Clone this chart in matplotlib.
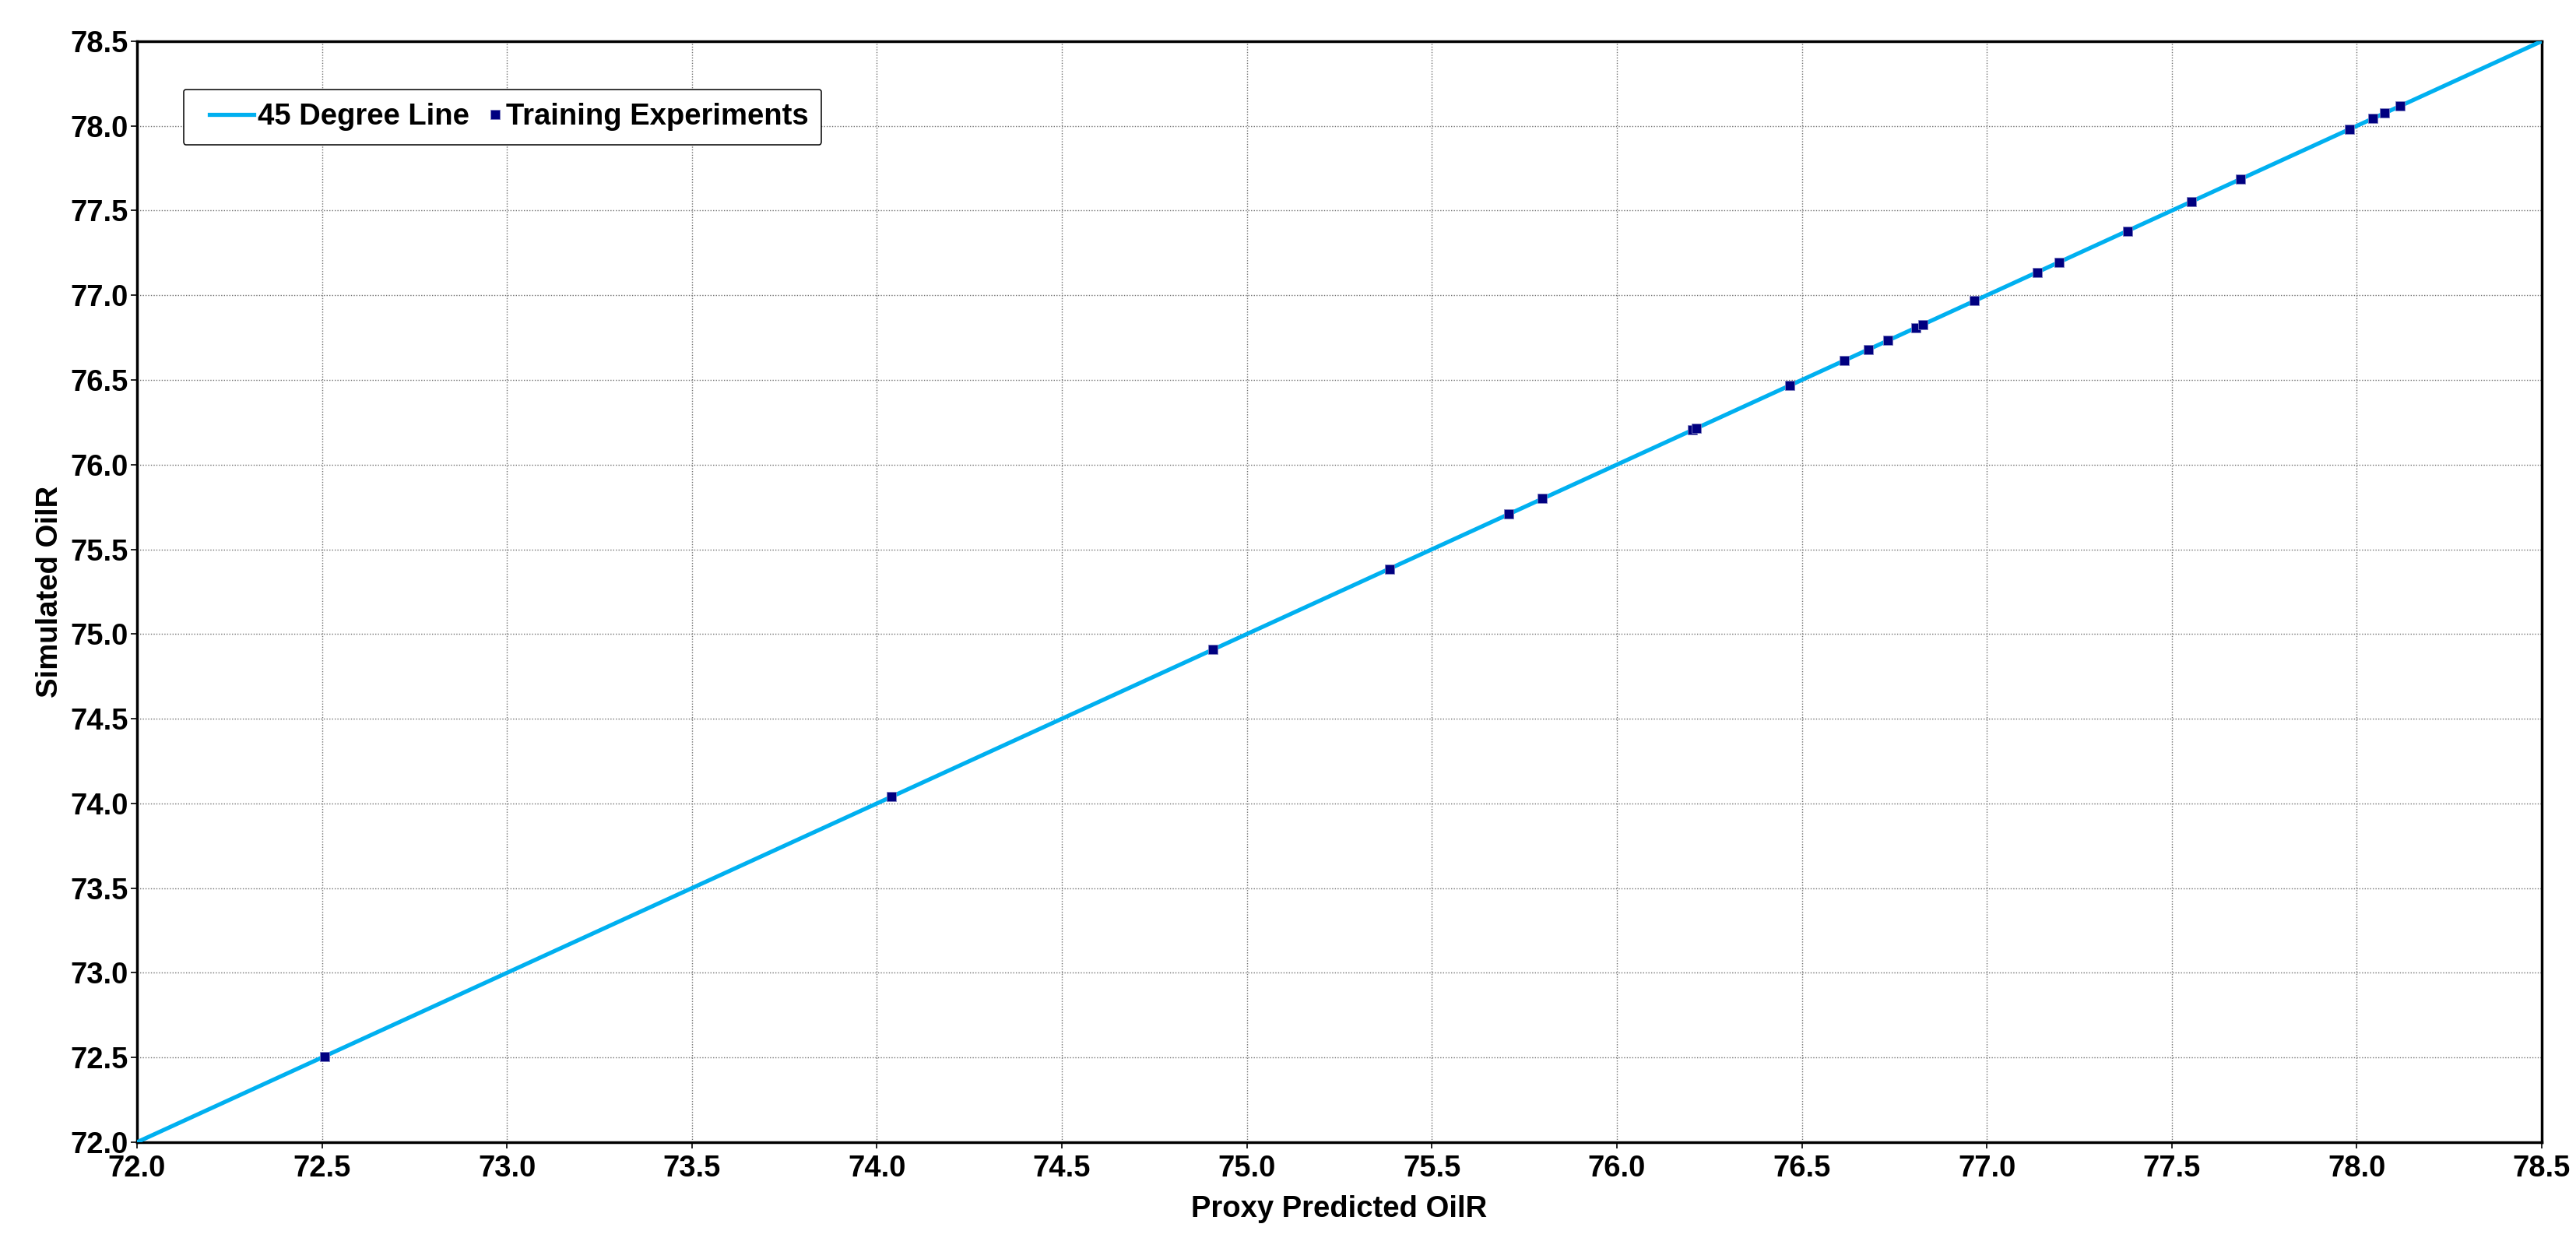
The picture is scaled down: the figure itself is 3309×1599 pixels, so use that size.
import matplotlib
matplotlib.use("Agg")
import matplotlib.pyplot as plt
import numpy as np
from matplotlib.legend_handler import HandlerLine2D

# proxy vs simulated OilR for the training runs
proxy_oilr = [72.506, 74.039, 74.908, 75.385, 75.708, 75.799, 76.205, 76.215,
              76.467, 76.614, 76.680, 76.733, 76.808, 76.827, 76.967, 77.136,
              77.195, 77.380, 77.554, 77.686, 77.980, 78.043, 78.076, 78.117]
sim_oilr = [72.506, 74.039, 74.908, 75.385, 75.708, 75.799, 76.205, 76.215,
            76.467, 76.614, 76.680, 76.733, 76.808, 76.827, 76.967, 77.136,
            77.195, 77.380, 77.554, 77.686, 77.980, 78.043, 78.076, 78.117]
line_ends = [72.0, 78.5]
ticks = np.arange(72.0, 78.51, 0.5)
tick_labels = ["%.1f" % t for t in ticks]

plt.rcParams['font.family'] = ['Liberation Sans', 'DejaVu Sans']
plt.rcParams['font.weight'] = 'bold'
fs = 27.5


class RightHandle(HandlerLine2D):
    # draw the handle only in the right part of the handle box
    def __init__(self, seg, **kw):
        self.seg = seg  # length in points, measured back from the right end
        HandlerLine2D.__init__(self, **kw)

    def get_xdata(self, legend, xdescent, ydescent, width, height, fontsize):
        x1 = -xdescent + width
        if self.seg > 0:
            return np.array([x1 - self.seg, x1]), np.array([x1 - self.seg / 2])
        m = x1 + self.seg
        return np.array([m - 0.5, m + 0.5]), np.array([m])


fig = plt.figure(figsize=(33.09, 15.99), dpi=100)
ax = fig.add_axes([0.0532, 0.0826, 0.9335, 0.8843])

line45, = ax.plot(line_ends, line_ends, color='#00B0F0', lw=3.8, zorder=3,
                  label='45 Degree Line')
pts, = ax.plot(proxy_oilr, sim_oilr, ls='none', marker='s', ms=9,
               mfc='#000080', mec='#8080c0', mew=0.6, zorder=4,
               label='Training Experiments')

ax.set_xlim(72.0, 78.5)
ax.set_ylim(72.0, 78.5)
ax.set_xticks(ticks)
ax.set_yticks(ticks)
ax.set_xticklabels(tick_labels, fontsize=fs, fontweight='bold')
ax.set_yticklabels(tick_labels, fontsize=fs, fontweight='bold')
ax.tick_params(direction='out', length=5.8, width=1.2)
ax.tick_params(axis='x', pad=6)
ax.tick_params(axis='y', pad=2)

ax.grid(True, color='#707070', ls=(0, (1, 1.5)), lw=1.0)
ax.set_axisbelow(True)
for s in ax.spines.values():
    s.set_linewidth(2.5)
    s.set_color('black')

ax.set_xlabel('Proxy Predicted OilR', fontsize=fs, fontweight='bold', labelpad=11)
ax.set_ylabel('Simulated OilR', fontsize=fs, fontweight='bold', labelpad=6)

leg = ax.legend(handles=[line45, pts], loc='upper left',
                bbox_to_anchor=(0.0194, 0.956), borderaxespad=0, ncol=2,
                fontsize=fs, handlelength=1.9, handletextpad=0.13,
                columnspacing=-0.8, borderpad=0.45, framealpha=1,
                handler_map={line45: RightHandle(40.5),
                             pts: RightHandle(-6.5, numpoints=1)})
leg.get_frame().set_edgecolor('black')
leg.get_frame().set_linewidth(1.1)
leg.get_frame().set_boxstyle('round', pad=0, rounding_size=0.08)

fig.savefig('out.png', dpi=100)
plt.close()
